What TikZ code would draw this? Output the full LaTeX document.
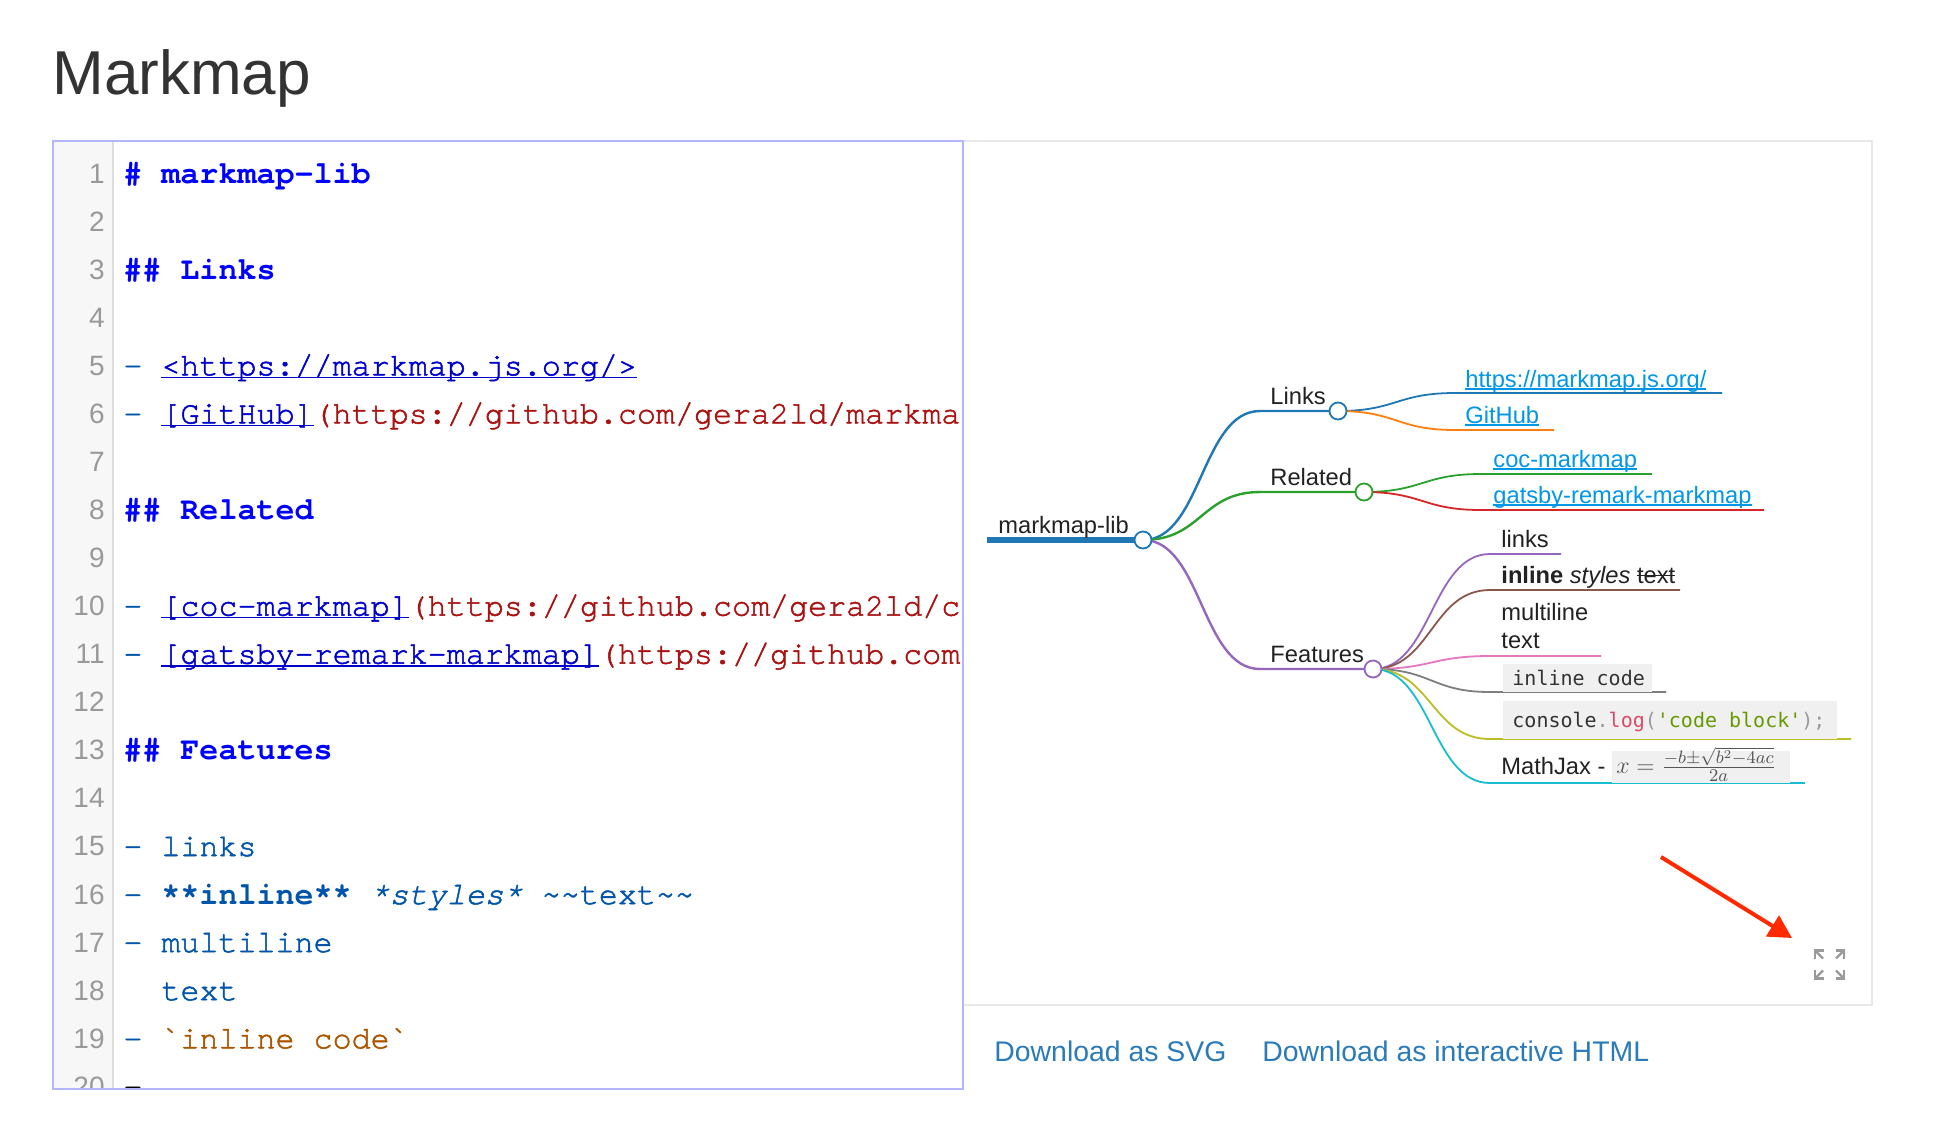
\documentclass[tikz,border=0pt]{standalone}
\usepackage[no-math]{fontspec}
\setmainfont{Liberation Sans}
\setmonofont{DejaVu Sans Mono}
\newfontfamily\edfont{texgyrecursor}[Extension=.otf,UprightFont=*-regular,BoldFont=*-bold,ItalicFont=*-italic,BoldItalicFont=*-bolditalic,UprightFeatures={FakeBold=1.6},ItalicFeatures={FakeBold=1.6}]
\usetikzlibrary{arrows.meta}

\newsavebox\mylinebox
\newcommand\myul[1]{\sbox\mylinebox{#1}\rlap{\rule[-1.4pt]{\wd\mylinebox}{0.7pt}}\usebox\mylinebox}
\newcommand\mysout[1]{\sbox\mylinebox{#1}\rlap{\rule[0.55ex]{\wd\mylinebox}{0.6pt}}\usebox\mylinebox}

\definecolor{cmhead}{HTML}{0000FF}
\definecolor{cmlink}{HTML}{0000CC}
\definecolor{cmurl}{HTML}{AA1111}
\definecolor{cmlist}{HTML}{0055AA}
\definecolor{cmcode}{HTML}{AA5500}
\definecolor{numgray}{HTML}{999999}
\definecolor{gutterbg}{HTML}{F7F7F7}
\definecolor{gutterline}{HTML}{DDDDDD}
\definecolor{edborder}{HTML}{B4B6FA}
\definecolor{panelborder}{HTML}{E9E9E9}
\definecolor{titlegray}{HTML}{333333}
\definecolor{dlblue}{HTML}{2B7BB9}
\definecolor{mmtext}{HTML}{222222}
\definecolor{mmlink}{HTML}{0097E6}
\definecolor{codebg}{HTML}{F0F0F0}
\definecolor{codetext}{HTML}{333333}
\definecolor{codepunct}{HTML}{999999}
\definecolor{codefn}{HTML}{DD4A68}
\definecolor{codestr}{HTML}{669900}
\definecolor{mathgray}{HTML}{555555}
\definecolor{arrowred}{HTML}{FF2A00}
\definecolor{icongray}{HTML}{9A9A9A}
\definecolor{cA}{HTML}{1F77B4}
\definecolor{cB}{HTML}{FF7F0E}
\definecolor{cC}{HTML}{2CA02C}
\definecolor{cD}{HTML}{D62728}
\definecolor{cE}{HTML}{9467BD}
\definecolor{cF}{HTML}{8C564B}
\definecolor{cG}{HTML}{E377C2}
\definecolor{cH}{HTML}{7F7F7F}
\definecolor{cI}{HTML}{BCBD22}
\definecolor{cJ}{HTML}{17BECF}

\tikzset{
  edline/.style={anchor=base west, inner sep=0, font=\edfont\fontsize{15.85}{19}\selectfont},
  lnum/.style={anchor=base east, inner sep=0, font=\fontsize{14}{16}\selectfont, text=numgray},
  mmlabel/.style={anchor=base west, inner sep=0, font=\fontsize{11.85}{14}\selectfont, text=mmtext},
  mmurl/.style={mmlabel, text=mmlink},
  cdtext/.style={anchor=base west, inner sep=0, font=\ttfamily\fontsize{10}{12}\selectfont, text=codetext},
  dltext/.style={anchor=base west, inner sep=0, font=\fontsize{14.2}{17}\selectfont, text=dlblue},
  mmcirc/.style={circle, fill=white, line width=0.9pt, minimum size=8.5pt, inner sep=0},
  lvlzero/.style={line width=3pt},
  lvlone/.style={line width=1.2pt},
  lvltwo/.style={line width=0.9pt},
  iconline/.style={draw=icongray, line width=1.2pt}
}

\begin{document}
\begin{tikzpicture}[x=0.5pt,y=-0.5pt]
\useasboundingbox (0,0) rectangle (1938,1126);
\fill[white] (0,0) rectangle (1938,1126);

% ---------- title
\node[anchor=base west, inner sep=0, font=\fontsize{31}{36}\selectfont, text=titlegray] (title) at (52,94) {Markmap};

% ---------- right panel
\draw[panelborder, line width=1pt] (963,141) rectangle (1872,1005);

% ---------- editor
\fill[gutterbg] (53,141) rectangle (113,1089);
\draw[gutterline, line width=0.8pt] (113,141) -- (113,1089);

\begin{scope}
\clip (54,142) rectangle (962,1088);
\foreach \i in {1,...,20} {
  \node[lnum] (n\i) at (105,{183+(\i-1)*48.07}) {\i};
}
\node[edline, text=cmhead] (l1) at (123,183) {\bfseries\# markmap-lib};
\node[edline, text=cmhead] (l3) at (123,279.1) {\bfseries\#\# Links};
\node[edline] (l5) at (123,375.3) {\textcolor{cmlist}{-} \textcolor{cmlink}{\myul{<https://markmap.js.org/>}}};
\node[edline] (l6) at (123,423.4) {\textcolor{cmlist}{-} \textcolor{cmlink}{\myul{[GitHub]}}\textcolor{cmurl}{(https://github.com/gera2ld/markma}};
\node[edline, text=cmhead] (l8) at (123,519.5) {\bfseries\#\# Related};
\node[edline] (l10) at (123,615.6) {\textcolor{cmlist}{-} \textcolor{cmlink}{\myul{[coc-markmap]}}\textcolor{cmurl}{(https://github.com/gera2ld/c}};
\node[edline] (l11) at (123,663.7) {\textcolor{cmlist}{-} \textcolor{cmlink}{\myul{[gatsby-remark-markmap]}}\textcolor{cmurl}{(https://github.com}};
\node[edline, text=cmhead] (l13) at (123,759.8) {\bfseries\#\# Features};
\node[edline, text=cmlist] (l15) at (123,856) {- links};
\node[edline, text=cmlist] (l16) at (123,904.1) {- \textbf{**inline**} \textit{*styles*} \textasciitilde\textasciitilde text\textasciitilde\textasciitilde};
\node[edline, text=cmlist] (l17) at (123,952.1) {- multiline};
\node[edline, text=cmlist] (l18) at (161.1,1000.2) {text};
\node[edline] (l19) at (123,1048.3) {\textcolor{cmlist}{-} \textcolor{cmcode}{\textasciigrave inline code\textasciigrave}};
\node[edline, text=black] (l20) at (123,1096.3) {-};
\end{scope}
\draw[edborder, line width=1pt] (53,141) rectangle (963,1089);

% ---------- mind map anchors
\coordinate (mRootS) at (987,540);
\coordinate (mRoot) at (1143,540);
\coordinate (mLinksS) at (1260,411);
\coordinate (mLinks) at (1338,411);
\coordinate (mRelS) at (1260,492);
\coordinate (mRel) at (1364,492);
\coordinate (mFeatS) at (1260,669);
\coordinate (mFeat) at (1373,669);
\coordinate (mHttpsS) at (1455,393);  \coordinate (mHttpsE) at (1722,393);
\coordinate (mGhS) at (1455,430);     \coordinate (mGhE) at (1554,430);
\coordinate (mCocS) at (1481,474);    \coordinate (mCocE) at (1652,474);
\coordinate (mGatS) at (1481,510);    \coordinate (mGatE) at (1764,510);
\coordinate (mLnkS) at (1490,554);    \coordinate (mLnkE) at (1561,554);
\coordinate (mStyS) at (1490,590);    \coordinate (mStyE) at (1680,590);
\coordinate (mMulS) at (1490,656);    \coordinate (mMulE) at (1601,656);
\coordinate (mInlS) at (1490,692);    \coordinate (mInlE) at (1666,692);
\coordinate (mBlkS) at (1490,739);    \coordinate (mBlkE) at (1851,739);
\coordinate (mMjS) at (1490,783);     \coordinate (mMjE) at (1805,783);

% root line
\draw[lvlzero, cA] (mRootS) -- (mRoot);
% level 1
\draw[lvlone, cA] (mRoot) .. controls +(58.5,0) and +(-58.5,0) .. (mLinksS) -- (mLinks);
\draw[lvlone, cC] (mRoot) .. controls +(58.5,0) and +(-58.5,0) .. (mRelS) -- (mRel);
\draw[lvlone, cE] (mRoot) .. controls +(58.5,0) and +(-58.5,0) .. (mFeatS) -- (mFeat);
% level 2
\draw[lvltwo, cA] (mLinks) .. controls +(58.5,0) and +(-58.5,0) .. (mHttpsS) -- (mHttpsE);
\draw[lvltwo, cB] (mLinks) .. controls +(58.5,0) and +(-58.5,0) .. (mGhS) -- (mGhE);
\draw[lvltwo, cC] (mRel) .. controls +(58.5,0) and +(-58.5,0) .. (mCocS) -- (mCocE);
\draw[lvltwo, cD] (mRel) .. controls +(58.5,0) and +(-58.5,0) .. (mGatS) -- (mGatE);
\draw[lvltwo, cE] (mFeat) .. controls +(58.5,0) and +(-58.5,0) .. (mLnkS) -- (mLnkE);
\draw[lvltwo, cF] (mFeat) .. controls +(58.5,0) and +(-58.5,0) .. (mStyS) -- (mStyE);
\draw[lvltwo, cG] (mFeat) .. controls +(58.5,0) and +(-58.5,0) .. (mMulS) -- (mMulE);
\draw[lvltwo, cH] (mFeat) .. controls +(58.5,0) and +(-58.5,0) .. (mInlS) -- (mInlE);
\draw[lvltwo, cI] (mFeat) .. controls +(58.5,0) and +(-58.5,0) .. (mBlkS) -- (mBlkE);
\draw[lvltwo, cJ] (mFeat) .. controls +(58.5,0) and +(-58.5,0) .. (mMjS) -- (mMjE);

% circles
\node[mmcirc, draw=cA] (cRoot) at (mRoot) {};
\node[mmcirc, draw=cA] (cLinks) at (mLinks) {};
\node[mmcirc, draw=cC] (cRel) at (mRel) {};
\node[mmcirc, draw=cE] (cFeat) at (mFeat) {};

% labels
\node[mmlabel] (tRoot) at (998,533) {markmap-lib};
\node[mmlabel] (tLinks) at (1270,404) {Links};
\node[mmlabel] (tRel) at (1270,485) {Related};
\node[mmlabel] (tFeat) at (1270,662) {Features};
\node[mmurl] (tHttps) at (1465,387) {\myul{https://markmap.js.org/}};
\node[mmurl] (tGh) at (1465,423) {\myul{GitHub}};
\node[mmurl] (tCoc) at (1493,467) {\myul{coc-markmap}};
\node[mmurl] (tGat) at (1493,503) {\myul{gatsby-remark-markmap}};
\node[mmlabel] (tLnk) at (1501,547) {links};
\node[mmlabel] (tSty) at (1501,583) {\textbf{inline} \textit{styles} \mysout{text}};
\node[mmlabel] (tMul1) at (1501,620) {multiline};
\node[mmlabel] (tMul2) at (1501,648) {text};

% code boxes
\fill[codebg] (1503,664) rectangle (1652,692);
\node[cdtext] (tInl) at (1512,685) {inline code};
\fill[codebg] (1503,701) rectangle (1837,739);
\node[cdtext] (tBlk) at (1512,727) {console\textcolor{codepunct}{.}\textcolor{codefn}{log}\textcolor{codepunct}{(}\textcolor{codestr}{\textquotesingle code block\textquotesingle}\textcolor{codepunct}{);}};
\node[mmlabel] (tMj) at (1501,774) {MathJax -};
\fill[codebg] (1612,751) rectangle (1790,783);
\node[anchor=base west, inner sep=0, text=mathgray, font=\fontsize{13}{15}\selectfont] (tMath) at (1616,773) {$x=\frac{-b\pm\sqrt{b^2-4ac}}{2a}$};

% ---------- red arrow
\coordinate (arrS) at (1661,857);
\coordinate (arrT) at (1792,938);
\draw[arrowred, line width=2pt, -{Triangle[length=11.5pt,width=12pt]}] (arrS) -- (arrT);

% ---------- fullscreen icon
\draw[iconline] (1815,959) -- (1815,950.5) -- (1823.5,950.5);
\draw[iconline] (1815,950.5) -- (1823,958.5);
\draw[iconline] (1835.5,950.5) -- (1844,950.5) -- (1844,959);
\draw[iconline] (1844,950.5) -- (1836,958.5);
\draw[iconline] (1815,970) -- (1815,978.5) -- (1823.5,978.5);
\draw[iconline] (1815,978.5) -- (1823,970.5);
\draw[iconline] (1835.5,978.5) -- (1844,978.5) -- (1844,970);
\draw[iconline] (1844,978.5) -- (1836,970.5);

% ---------- download links
\node[dltext] (dlSvg) at (994,1061) {Download as SVG};
\node[dltext] (dlHtml) at (1262,1061) {Download as interactive HTML};
\end{tikzpicture}
\end{document}
